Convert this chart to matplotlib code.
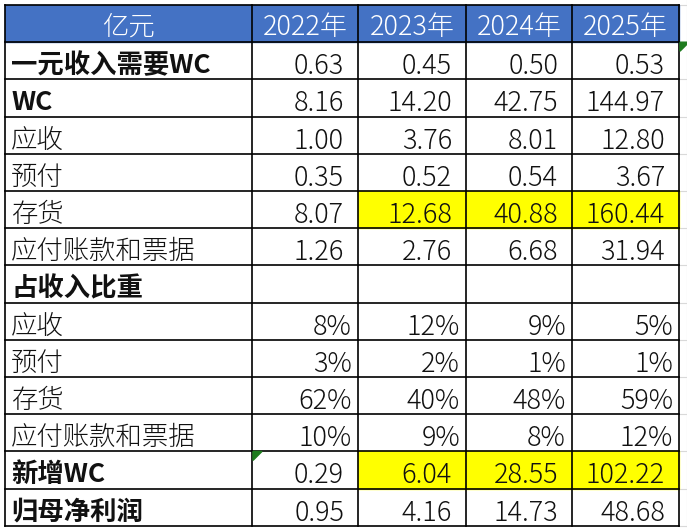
import matplotlib
matplotlib.use('Agg')
import matplotlib.pyplot as plt
from matplotlib.patches import Rectangle, Polygon

plt.rcParams['font.family'] = ['Noto Sans CJK SC', 'DejaVu Sans']
num_font = ['Noto Sans CJK JP', 'Noto Sans CJK SC', 'DejaVu Sans']
light_font = ['Noto Sans CJK JP', 'Noto Sans CJK SC', 'DejaVu Sans']
bold_font = ['Noto Sans CJK SC', 'DejaVu Sans']

# table content
corner = '亿元'
years = ['2022年', '2023年', '2024年', '2025年']
labels = ['一元收入需要WC', 'WC', '应收', '预付', '存货', '应付账款和票据',
          '占收入比重', '应收', '预付', '存货', '应付账款和票据', '新增WC', '归母净利润']
bold_rows = [0, 1, 6, 11, 12]
pct_rows = [7, 8, 9, 10]
v2022 = [0.63, 8.16, 1.00, 0.35, 8.07, 1.26, None, 0.08, 0.03, 0.62, 0.10, 0.29, 0.95]
v2023 = [0.45, 14.20, 3.76, 0.52, 12.68, 2.76, None, 0.12, 0.02, 0.40, 0.09, 6.04, 4.16]
v2024 = [0.50, 42.75, 8.01, 0.54, 40.88, 6.68, None, 0.09, 0.01, 0.48, 0.08, 28.55, 14.73]
v2025 = [0.53, 144.97, 12.80, 3.67, 160.44, 31.94, None, 0.05, 0.01, 0.59, 0.12, 102.22, 48.68]
highlight = [(4, 1), (4, 2), (4, 3), (11, 1), (11, 2), (11, 3)]

columns = [v2022, v2023, v2024, v2025]

W, H = 687, 528
fig = plt.figure(figsize=(W / 100, H / 100), dpi=100)
ax = fig.add_axes([0, 0, 1, 1])
ax.set_xlim(0, W)
ax.set_ylim(H, 0)
ax.axis('off')

xs = [5, 252, 358, 466, 572, 679]
top = 5
rh = 37.2
n = len(labels)
ys = [top + i * rh for i in range(n + 2)]

blue = '#4472C4'
fs = 19
nfs = 19.5
ink = '#111111'

# faint spreadsheet grid outside the table
for y in ys:
    ax.plot([xs[-1], W], [y, y], color='#d9d9d9', lw=0.8, zorder=0)
ax.plot([xs[-1] + 8, xs[-1] + 8], [0, H], color='#d9d9d9', lw=0.8, zorder=0)

# header
ax.add_patch(Rectangle((xs[0], ys[0]), xs[-1] - xs[0], rh, color=blue, zorder=1))
ax.text((xs[0] + xs[1]) / 2, ys[0] + 30, corner, color='white', family=light_font,
        ha='center', va='baseline', fontsize=fs, fontweight=300, zorder=3)
for j, yr in enumerate(years):
    ax.text((xs[j + 1] + xs[j + 2]) / 2, ys[0] + 30, yr, color='white',
            ha='center', va='baseline', fontsize=nfs, family=num_font,
            fontweight=300, zorder=3)

# yellow cells
for r, c in highlight:
    ax.add_patch(Rectangle((xs[c + 1], ys[r + 1]), xs[c + 2] - xs[c + 1], rh,
                           color='#FFFF00', zorder=1))

# body
for i, lab in enumerate(labels):
    base = ys[i + 1] + 31
    if i in bold_rows:
        ax.text(xs[0] + 6, base, lab, ha='left', va='baseline', fontsize=fs,
                family=bold_font, fontweight='bold', color=ink, zorder=3)
    else:
        ax.text(xs[0] + 6, base, lab, ha='left', va='baseline', fontsize=fs,
                family=light_font, fontweight=300, color=ink, zorder=3)
    for j, col in enumerate(columns):
        v = col[i]
        if v is None:
            continue
        if i in pct_rows:
            s = f'{v * 100:.0f}%'
            pad = 6
        else:
            s = f'{v:.2f}'
            pad = 14
        ax.text(xs[j + 2] - pad, base + 1, s, ha='right', va='baseline', fontsize=nfs,
                family=num_font, fontweight=300, color=ink, zorder=3)

# grid lines
for y in ys:
    ax.plot([xs[0], xs[-1]], [y, y], color='black', lw=1.2, zorder=2)
for x in xs:
    ax.plot([x, x], [ys[0], ys[-1]], color='black', lw=1.2, zorder=2)

# green error markers
tri = 9
for cx, cy in [(xs[-1] + 1, ys[1]), (xs[1] + 1, ys[12])]:
    ax.add_patch(Polygon([(cx, cy), (cx + tri, cy), (cx, cy + tri)],
                         closed=True, color='#1e7b1e', zorder=4))

fig.savefig('out.png', dpi=100)
